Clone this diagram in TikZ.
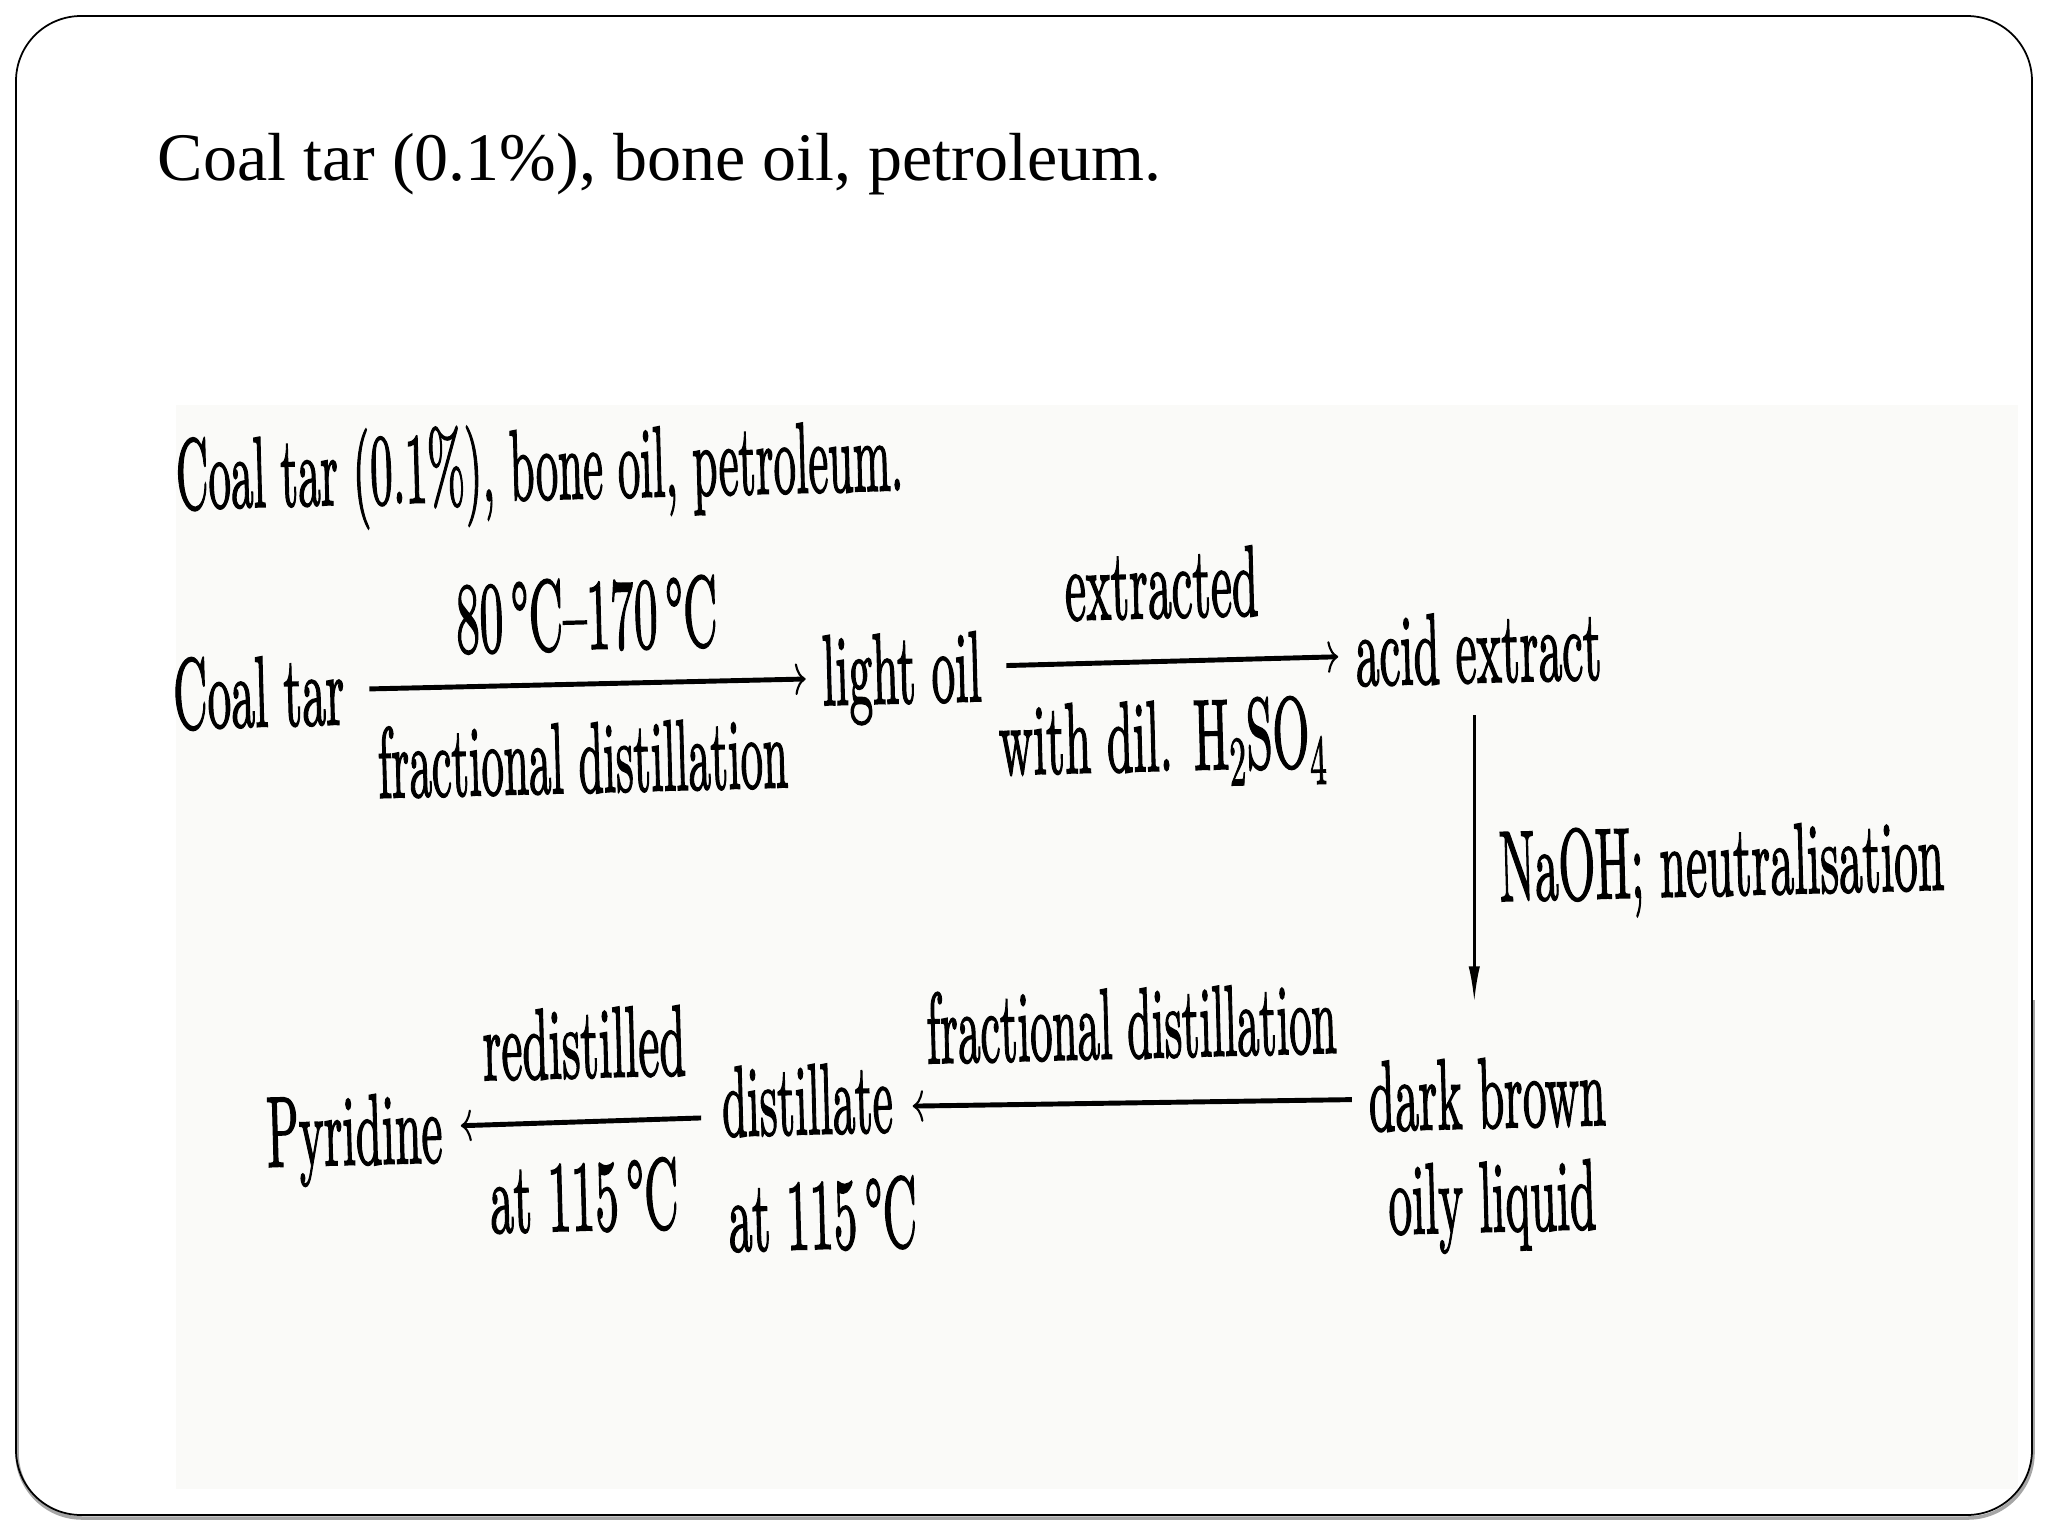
\documentclass[tikz,border=0pt]{standalone}
\usepackage{fontspec}
\newfontfamily\slidefont{Liberation Serif}
\newfontfamily\scanfont{lmroman10-regular.otf}[FakeBold=2]
\usetikzlibrary{arrows.meta,calc}
\definecolor{scanbg}{RGB}{250,250,248}
\newcommand{\sq}[2][0.472]{\scalebox{#1}[1]{#2}}
\tikzset{
  harr/.style={line width=1.4pt, -{To[length=3pt,width=9pt,line width=0.6pt]}},
  varr/.style={line width=0.7pt, -{Latex[length=10pt,width=3.2pt]}},
  scantext/.style={transform shape, inner sep=0pt, font=\scanfont\fontsize{28.5}{33}\selectfont},
}
\begin{document}
\begin{tikzpicture}[x=0.01cm,y=-0.01cm]
\useasboundingbox (0,0) rectangle (2048,1536);
\fill[white] (0,0) rectangle (2048,1536);
% bottom shadow of the slide frame
\begin{scope}
  \clip (0,1000) rectangle (2048,1536);
  \draw[gray!70, line width=1pt, rounded corners=0.65cm] (17,19) rectangle (2033,1518);
\end{scope}
% scanned area background
\fill[scanbg] (176,405) rectangle (2018,1489);
% slide frame
\draw[line width=0.5pt, rounded corners=0.65cm] (16,16) rectangle (2032,1515);
% slide title
\node[anchor=base west, inner sep=0pt, font=\slidefont\fontsize{19.35}{23}\selectfont] (title) at (157,180)
  {Coal tar (0.1\%), bone oil, petroleum.};

\begin{scope}[rotate around={1.5:(1097,914)}, every node/.style={scantext}]
  \node[anchor=base west] (scantitle) at (187,485) {\sq[0.447]{Coal tar (0.1\%), bone oil, petroleum.}};
  % species
  \node[anchor=base west] (coaltar) at (178.5,704.6) {\sq{Coal tar}};
  \node[anchor=base west] (lightoil) at (828,698) {\sq{light oil}};
  \node[anchor=base west] (acid) at (1361.6,692.4) {\sq{acid extract}};
  \node[anchor=base west] (dbrown) at (1363,1138) {\sq{dark brown}};
  \node[anchor=base west] (oily) at (1380,1241.7) {\sq{oily liquid}};
  \node[anchor=base west] (distillate) at (716.4,1126.4) {\sq[0.45]{distillate}};
  \node[anchor=base east] (pyridine) at (437.5,1145) {\sq{Pyridine}};
  % labels
  \node[anchor=base] (l1a) at (594.6,635.7) {\sq{80\,°C–170\,°C}};
  \node[anchor=base] (l1b) at (587,779) {\sq[0.447]{fractional distillation}};
  \node[anchor=base] (l2a) at (1170,619.4) {\sq{extracted}};
  \node[anchor=base] (l2b) at (1167.4,772.3) {\sq{with dil. H\textsubscript{2}SO\textsubscript{4}}};
  \node[anchor=base west] (l3) at (1499.7,911.6) {\sq{NaOH; neutralisation}};
  \node[anchor=base] (l4a) at (1128.5,1058.8) {\sq[0.447]{fractional distillation}};
  \node[anchor=base west] (l4b) at (719.9,1241.5) {\sq{at 115\,°C}};
  \node[anchor=base] (l5a) at (580.8,1064) {\sq{redistilled}};
  \node[anchor=base] (l5b) at (576.9,1216.8) {\sq{at 115\,°C}};
  % arrows
  \draw[harr] ($(coaltar.base east)+(24.6,-34.6)$) -- ($(lightoil.base west)+(-16,-26.5)$);
  \draw[harr] ($(lightoil.base east)+(24.5,-34.7)$) -- ($(acid.base west)+(-16.6,-29.2)$);
  \draw[harr] ($(dbrown.base west)+(-16,-31.7)$) -- ($(distillate.base east)+(19.3,-25.1)$);
  \draw[harr] ($(distillate.base west)+(-20.4,-18.8)$) -- ($(pyridine.base east)+(18,-35.9)$);
\end{scope}
% vertical arrow, kept truly vertical as in the scan
\draw[varr] ($(acid.base)+(-5,33)$) -- ($(acid.base |- dbrown.north)+(-5,-56)$);
\end{tikzpicture}
\end{document}
